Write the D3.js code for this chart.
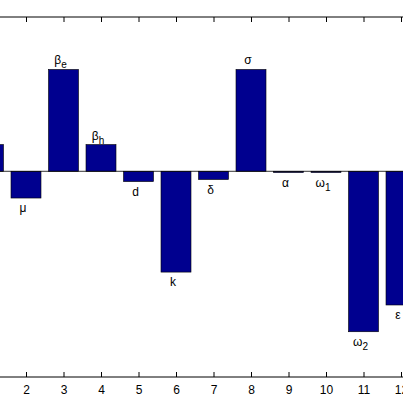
<!DOCTYPE html>
<html>
<head>
<script src="https://cdn.jsdelivr.net/npm/d3@7"></script>
<style>body{margin:0;background:#fff}svg{display:block;font-family:"Liberation Sans",Arial,sans-serif}</style>
</head>
<body>
<div class="chart"></div>
<script>
const positions = [1,2,3,4,5,6,7,8,9,10,11,12];
const values = [0.26,-0.26,0.99,0.26,-0.1,-0.98,-0.08,0.99,-0.012,-0.012,-1.56,-1.3];
const labels = [["β","s"],["μ",""],["β","e"],["β","h"],["d",""],["k",""],["δ",""],["σ",""],["α",""],["ω","1"],["ω","2"],["ε",""]];
const ticks = [1,2,3,4,5,6,7,8,9,10,11,12,13];

const W = 403, H = 403;
const svg = d3.select(".chart").append("svg").attr("width", W).attr("height", H);
const x = d3.scaleLinear().domain([1,13]).range([-11.5,438.5]);
const y = d3.scaleLinear().domain([-2,1.5]).range([377,17]);
const bw = 30;

svg.selectAll("rect.bar").data(values).enter().append("rect")
  .attr("x", (d,i) => x(positions[i]) - bw/2)
  .attr("y", d => y(Math.max(0,d)))
  .attr("width", bw)
  .attr("height", d => Math.max(1, Math.abs(y(d) - y(0))))
  .attr("fill", "#00008f").attr("stroke", "#000").attr("stroke-width", 0.6);

const lab = svg.selectAll("text.lab").data(values).enter().append("text")
  .attr("x", (d,i) => x(positions[i]) - 3)
  .attr("y", d => d > 0 ? y(d) - 5 : y(d) + 14)
  .attr("text-anchor", "middle").attr("font-size", 12);
lab.append("tspan").text((d,i) => labels[i][0]);
lab.append("tspan").attr("dy", 4).attr("font-size", 10).text((d,i) => labels[i][1]);

// frame and axes
svg.append("line").attr("x1",0).attr("x2",W).attr("y1",y(1.5)).attr("y2",y(1.5)).attr("stroke","#000");
svg.append("g").attr("transform", `translate(0,${y(-2)})`)
  .call(d3.axisBottom(x).tickValues(ticks).tickSize(-5).tickPadding(8).tickFormat(d3.format("d")))
  .call(g => g.select(".domain").attr("d", `M0,0H${W}`))
  .call(g => g.selectAll("text").attr("font-size", 12).attr("font-family", "Liberation Sans, Arial"));
svg.append("g").attr("transform", `translate(0,${y(1.5)})`)
  .call(d3.axisTop(x).tickValues(ticks).tickSize(-5).tickFormat(""))
  .call(g => g.select(".domain").remove());
svg.append("line").attr("x1",0).attr("x2",W).attr("y1",y(0)).attr("y2",y(0)).attr("stroke","#000").attr("stroke-width",0.8);
</script>
</body>
</html>
